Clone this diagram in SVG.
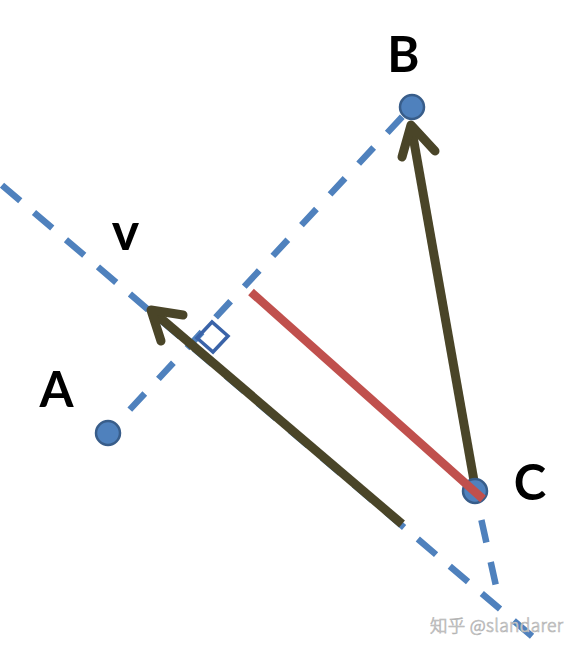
<svg xmlns="http://www.w3.org/2000/svg" width="580" height="649" viewBox="0 0 580 649">
<style>
.dash{fill:none;stroke:#4F81BD;stroke-width:6.5;stroke-linecap:butt}
.arrow{fill:none;stroke:#4a4528;stroke-width:9;stroke-linejoin:round}
.pt{fill:#4F81BD;stroke:#385D8A;stroke-width:2.5}
.lbl{font-family:Lato,"Liberation Sans",sans-serif;font-weight:bold;font-size:49px;fill:#000;text-anchor:middle}
.wm{font-family:"Noto Sans CJK SC","Noto Sans",sans-serif;font-weight:300;font-size:17.5px;fill:#f6f6f6;stroke:#b4b4b4;stroke-width:0.7}
</style>
<rect width="580" height="649" fill="#fff"/>
<g id="connectors">
  <path id="line-v" class="dash" d="M-30,158 L533,637.1" stroke-dasharray="24 18"/>
  <path id="line-AB" class="dash" d="M129.8,409.6 L403.6,115.3" stroke-dasharray="22 20"/>
  <path id="line-C" class="dash" d="M481.4,520 L495.8,585" stroke-dasharray="23 20"/>
  <polygon id="right-angle" points="197,338 212,322 228,336 213,352" fill="none" stroke="#3A63A8" stroke-width="3.5"/>
  <g id="arrow-v">
    <path class="arrow" d="M402,524 L151,310" stroke-linecap="butt"/>
    <path class="arrow" d="M161,341 L151,310 L183,315" stroke-linecap="round"/>
  </g>
  <g id="arrow-CB">
    <path class="arrow" d="M476,492 L411,125" stroke-linecap="butt"/>
    <path class="arrow" d="M402,157 L411,125 L435,151" stroke-linecap="round"/>
  </g>
</g>
<g id="node-A">
  <circle class="pt" cx="108" cy="433" r="12"/>
  <text class="lbl" x="56.5" y="407">A</text>
</g>
<g id="node-B">
  <circle class="pt" cx="412" cy="107" r="12"/>
  <text class="lbl" x="403.5" y="72">B</text>
</g>
<g id="node-C">
  <circle class="pt" cx="475" cy="491" r="12"/>
  <text class="lbl" x="530" y="500">C</text>
</g>
<g id="red-segment">
  <path d="M251,292 L483,499" fill="none" stroke="#C0504D" stroke-width="8.5" stroke-linecap="butt"/>
</g>
<g id="label-v">
  <text class="lbl" x="125.5" y="250" style="font-size:52px">v</text>
</g>
<text class="wm" x="430" y="632" textLength="133">知乎 @slandarer</text>
</svg>
